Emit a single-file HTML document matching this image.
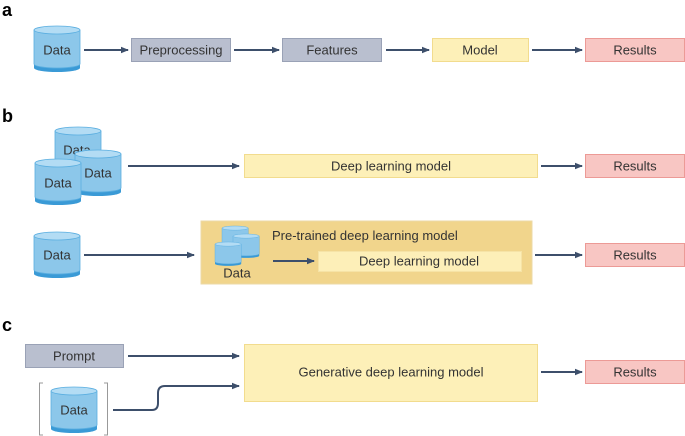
<!DOCTYPE html>
<html><head><meta charset="utf-8"><style>
html,body{margin:0;padding:0;background:#fff;}
svg{display:block;}
text{font-family:"Liberation Sans",sans-serif;fill:#333;}
.lbl{font-size:13px;text-anchor:middle;dominant-baseline:central;}
.pl{font-size:18px;font-weight:900;fill:#000;}
.ar{stroke:#3d4f6b;stroke-width:2;fill:none;}
</style></head><body>
<svg width="685" height="436" viewBox="0 0 685 436" xmlns="http://www.w3.org/2000/svg">
<defs>
<marker id="m" markerWidth="8" markerHeight="8" refX="7" refY="4" orient="auto" markerUnits="userSpaceOnUse">
<path d="M0,0.8 L8,4 L0,7.2 z" fill="#3d4f6b"/></marker>
<g id="cyl">
<path d="M0,4 V42 A23,4 0 0 0 46,42 V4 Z" fill="#3a9ad6"/>
<path d="M0,4 V38 A23,4 0 0 0 46,38 V4 Z" fill="#8cc7ea" stroke="#5aaee0" stroke-width="0.8"/>
<ellipse cx="23" cy="4" rx="23" ry="4" fill="#b3dcf4" stroke="#5aaee0" stroke-width="0.8"/>
</g>
</defs>

<text class="pl" x="2" y="16">a</text>
<use href="#cyl" x="34" y="26"/>
<text class="lbl" x="57" y="50">Data</text>
<line class="ar" x1="84" y1="50" x2="128" y2="50" marker-end="url(#m)"/>
<rect x="131.5" y="38.5" width="99" height="23" fill="#b9bfcf" stroke="#9aa2b6"/>
<text class="lbl" x="181" y="50">Preprocessing</text>
<line class="ar" x1="234" y1="50" x2="279" y2="50" marker-end="url(#m)"/>
<rect x="282.5" y="38.5" width="99" height="23" fill="#b9bfcf" stroke="#9aa2b6"/>
<text class="lbl" x="332" y="50">Features</text>
<line class="ar" x1="386" y1="50" x2="429" y2="50" marker-end="url(#m)"/>
<rect x="432.5" y="38.5" width="96" height="23" fill="#fdf0b8" stroke="#f2dc8e"/>
<text class="lbl" x="480" y="50">Model</text>
<line class="ar" x1="532" y1="50" x2="582" y2="50" marker-end="url(#m)"/>
<rect x="585.5" y="38.5" width="99" height="23" fill="#f8c6c3" stroke="#ec9a96"/>
<text class="lbl" x="635" y="50">Results</text>

<text class="pl" x="2" y="122">b</text>
<use href="#cyl" x="55" y="127"/>
<text class="lbl" x="77" y="150">Data</text>
<use href="#cyl" x="75" y="150"/>
<text class="lbl" x="98" y="173">Data</text>
<use href="#cyl" x="35" y="159"/>
<text class="lbl" x="58" y="183">Data</text>
<line class="ar" x1="128" y1="166" x2="239" y2="166" marker-end="url(#m)"/>
<rect x="244.5" y="154.5" width="293" height="23" fill="#fdf0b8" stroke="#f2dc8e"/>
<text class="lbl" x="391" y="166">Deep learning model</text>
<line class="ar" x1="541" y1="166" x2="582" y2="166" marker-end="url(#m)"/>
<rect x="585.5" y="154.5" width="99" height="23" fill="#f8c6c3" stroke="#ec9a96"/>
<text class="lbl" x="635" y="166">Results</text>

<use href="#cyl" x="34" y="232"/>
<text class="lbl" x="57" y="255">Data</text>
<line class="ar" x1="84" y1="255" x2="194" y2="255" marker-end="url(#m)"/>
<rect x="201" y="221" width="331" height="63" fill="#f1d58c" stroke="#ecd9a6"/>
<g transform="translate(222,226) scale(0.57,0.52)"><use href="#cyl"/></g>
<g transform="translate(233,234) scale(0.57,0.52)"><use href="#cyl"/></g>
<g transform="translate(215,242) scale(0.57,0.52)"><use href="#cyl"/></g>
<text class="lbl" x="237" y="273">Data</text>
<text x="272" y="240" style="font-size:13px">Pre-trained deep learning model</text>
<line class="ar" x1="273" y1="261" x2="314" y2="261" marker-end="url(#m)"/>
<rect x="318.5" y="251.5" width="203" height="20" fill="#fdefb8" stroke="#f6e3a6"/>
<text class="lbl" x="419" y="261">Deep learning model</text>
<line class="ar" x1="535" y1="255" x2="582" y2="255" marker-end="url(#m)"/>
<rect x="585.5" y="243.5" width="99" height="23" fill="#f8c6c3" stroke="#ec9a96"/>
<text class="lbl" x="635" y="255">Results</text>

<text class="pl" x="2" y="331">c</text>
<rect x="25.5" y="344.5" width="98" height="23" fill="#b9bfcf" stroke="#9aa2b6"/>
<text class="lbl" x="74" y="356">Prompt</text>
<line class="ar" x1="128" y1="356" x2="239" y2="356" marker-end="url(#m)"/>
<rect x="244.5" y="344.5" width="293" height="57" fill="#fdf0b8" stroke="#f2dc8e"/>
<text class="lbl" x="391" y="372">Generative deep learning model</text>
<line class="ar" x1="541" y1="372" x2="582" y2="372" marker-end="url(#m)"/>
<rect x="585.5" y="360.5" width="99" height="23" fill="#f8c6c3" stroke="#ec9a96"/>
<text class="lbl" x="635" y="372">Results</text>

<path d="M43,383 H39.5 V435 H43 M104,383 H107.5 V435 H104" fill="none" stroke="#999" stroke-width="1"/>
<use href="#cyl" x="51" y="387"/>
<text class="lbl" x="74" y="410">Data</text>
<path class="ar" d="M113,410 H152 Q158,410 158,403 V393 Q158,386 165,386 H239" marker-end="url(#m)"/>
</svg>
</body></html>
